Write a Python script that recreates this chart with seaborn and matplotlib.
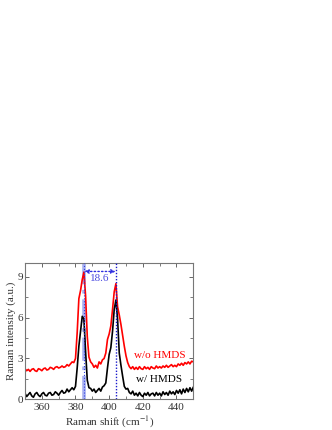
import numpy as np
import pandas as pd
import matplotlib
matplotlib.use("Agg")
import matplotlib.pyplot as plt
import seaborn as sns

shift = list(range(350, 451))
wo_hmds = [2.25, 2.1, 2.2, 2.05, 2.2, 2.25, 2.1, 2.05, 2.25, 2.2,
           2.1, 2.25, 2.3, 2.15, 2.2, 2.35, 2.3, 2.2, 2.35, 2.4,
           2.3, 2.35, 2.45, 2.35, 2.4, 2.55, 2.45, 2.6, 2.75, 2.7,
           3.0, 4.9, 7.4, 8.0, 8.8, 9.35, 7.6, 4.6, 3.1, 2.75,
           2.6, 2.35, 2.5, 2.3, 2.75, 2.6, 2.9, 3.0, 3.4, 4.4,
           4.8, 5.4, 6.6, 7.9, 8.5, 6.8, 6.2, 5.5, 4.7, 3.9,
           3.2, 2.7, 2.4, 2.25, 2.4, 2.2, 2.35, 2.2, 2.4, 2.25,
           2.2, 2.4, 2.25, 2.35, 2.2, 2.4, 2.3, 2.25, 2.45, 2.3,
           2.4, 2.3, 2.45, 2.35, 2.5, 2.35, 2.45, 2.55, 2.4, 2.5,
           2.4, 2.6, 2.5, 2.65, 2.5, 2.7, 2.6, 2.75, 2.6, 2.8,
           2.75]
w_hmds = [0.45, 0.2, 0.35, 0.5, 0.25, 0.15, 0.4, 0.5, 0.3, 0.2,
          0.4, 0.5, 0.3, 0.25, 0.45, 0.5, 0.3, 0.35, 0.55, 0.45,
          0.3, 0.5, 0.65, 0.45, 0.5, 0.75, 0.55, 0.7, 0.85, 0.7,
          0.95, 2.3, 3.9, 5.0, 6.1, 5.9, 3.5, 1.4, 0.85, 0.8,
          0.6, 0.75, 0.5, 0.65, 0.8, 0.6, 0.9, 1.0, 1.2, 2.3,
          3.3, 3.8, 5.0, 6.6, 7.3, 5.9, 3.4, 2.5, 1.7, 0.95,
          0.75, 0.8, 0.5, 0.4, 0.6, 0.3, 0.45, 0.25, 0.5, 0.3,
          0.2, 0.45, 0.3, 0.5, 0.25, 0.4, 0.45, 0.25, 0.5, 0.3,
          0.45, 0.25, 0.55, 0.35, 0.5, 0.3, 0.6, 0.4, 0.55, 0.35,
          0.65, 0.45, 0.7, 0.4, 0.75, 0.5, 0.8, 0.55, 0.85, 0.6,
          0.9]
peak_positions = [385.2, 403.8]
separation_label = "18.6"
xticks = [360, 380, 400, 420, 440]
yticks = [0, 3, 6, 9]

sns.set_style("ticks")
plt.rcParams['font.family'] = ['Liberation Serif', 'DejaVu Serif']
plt.rcParams['mathtext.fontset'] = 'stix'

fig = plt.figure(figsize=(3.32, 4.30), dpi=100)
ax = fig.add_axes([0.0753, 0.0714, 0.507, 0.3163])

df = pd.DataFrame({"shift": shift, "wo": wo_hmds, "w": w_hmds})
sns.lineplot(data=df, x="shift", y="wo", ax=ax, color="#ff0000", lw=1.2)
sns.lineplot(data=df, x="shift", y="w", ax=ax, color="black", lw=1.2)

ax.axvline(peak_positions[0], color="#a8b0f0", lw=2.6, ls="-.", zorder=0)
ax.axvline(peak_positions[0], color="#3040e0", lw=0.8, ls=":", zorder=3)
ax.axvline(peak_positions[1], color="#1a1acc", lw=1.0, ls=(0, (1, 1.2)), zorder=3)

ax.annotate("", xy=(peak_positions[0], 9.4), xytext=(peak_positions[1], 9.4),
            arrowprops=dict(arrowstyle="<|-|>", color="#3030e0", lw=1.0,
                            ls=":", mutation_scale=6, shrinkA=0, shrinkB=0))
ax.text(sum(peak_positions) / 2, 8.85, separation_label, color="#4a4ae0",
        fontsize=8, ha="center", va="center")

ax.text(430, 3.2, "w/o HMDS", color="#ff0000", fontsize=8, ha="center", va="center")
ax.text(429.6, 1.42, "w/ HMDS", color="black", fontsize=8, ha="center", va="center")

ax.set_xlim(350, 450)
ax.set_ylim(0, 10)
ax.set_xticks(xticks)
ax.set_yticks(yticks)
ax.set_xticks(np.arange(350, 451, 10), minor=True)
ax.set_yticks(np.arange(0, 10.1, 1.5), minor=True)
ax.tick_params(which="both", direction="in", top=True, right=True,
               color="#666666", labelsize=8, labelcolor="#333333")
ax.tick_params(axis="y", which="major", pad=1.5)
ax.tick_params(axis="x", which="major", pad=2.5)
ax.tick_params(which="major", length=3, width=0.7)
ax.tick_params(which="minor", length=2, width=0.6)
for s in ax.spines.values():
    s.set_color("#777777")
    s.set_linewidth(0.8)

ax.set_xlabel("Raman shift (cm$^{-1}$)", fontsize=8, color="#333333", labelpad=2)
ax.set_ylabel("Raman intensity (a.u.)", fontsize=8, color="#333333", labelpad=1)

fig.savefig("out.png", dpi=100)
